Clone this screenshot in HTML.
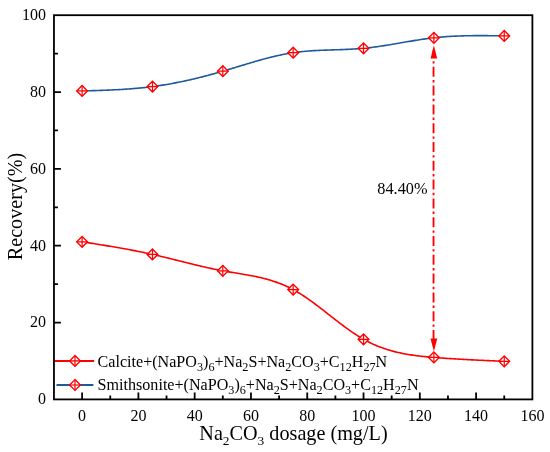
<!DOCTYPE html>
<html><head><meta charset="utf-8"><style>
html,body{margin:0;padding:0;background:#fff;}
svg{display:block;}
text{font-family:"Liberation Serif","Times New Roman",serif;fill:#000;}
.tl{font-size:16px;}
.tt{font-size:20.2px;}
.sub{font-size:13.4px;}
.lg{font-size:16.1px;}
.lsub{font-size:12.2px;}
.ax{stroke:#000;stroke-width:1.8;fill:none;}
.blue{stroke:#1f5a9b;stroke-width:1.6;fill:none;}
.red{stroke:#ff0000;stroke-width:1.6;fill:none;}
.mk{stroke:#ff0000;stroke-width:1.35;fill:#fff;fill-opacity:0.85;}
.mkc{stroke:#ff0000;stroke-width:1.2;fill:none;}
.dash{stroke:#ff0000;stroke-width:1.85;stroke-dasharray:10 3.2 2.4 3.2;stroke-dashoffset:2;}
</style></head><body>
<svg width="550" height="452" viewBox="0 0 550 452">
<path d="M82.10,90.95 L83.51,90.91 L84.92,90.87 L86.34,90.83 L87.75,90.79 L89.16,90.75 L90.57,90.71 L91.98,90.67 L93.39,90.63 L94.81,90.59 L96.22,90.54 L97.63,90.50 L99.04,90.45 L100.45,90.40 L101.87,90.36 L103.28,90.30 L104.69,90.25 L106.10,90.20 L107.51,90.14 L108.93,90.08 L110.34,90.02 L111.75,89.96 L113.16,89.89 L114.57,89.82 L115.98,89.75 L117.40,89.68 L118.81,89.60 L120.22,89.52 L121.63,89.44 L123.04,89.35 L124.46,89.26 L125.87,89.17 L127.28,89.07 L128.69,88.97 L130.10,88.87 L131.51,88.76 L132.93,88.65 L134.34,88.53 L135.75,88.41 L137.16,88.28 L138.57,88.15 L139.99,88.02 L141.40,87.88 L142.81,87.73 L144.22,87.58 L145.63,87.43 L147.05,87.27 L148.46,87.10 L149.87,86.93 L151.28,86.75 L152.69,86.57 L154.10,86.38 L155.52,86.19 L156.93,85.99 L158.34,85.78 L159.75,85.57 L161.16,85.35 L162.58,85.13 L163.99,84.90 L165.40,84.67 L166.81,84.43 L168.22,84.19 L169.64,83.94 L171.05,83.68 L172.46,83.42 L173.87,83.16 L175.28,82.89 L176.69,82.61 L178.11,82.33 L179.52,82.05 L180.93,81.76 L182.34,81.46 L183.75,81.16 L185.17,80.86 L186.58,80.55 L187.99,80.24 L189.40,79.92 L190.81,79.60 L192.22,79.27 L193.64,78.94 L195.05,78.60 L196.46,78.26 L197.87,77.92 L199.28,77.57 L200.70,77.22 L202.11,76.86 L203.52,76.50 L204.93,76.14 L206.34,75.77 L207.76,75.40 L209.17,75.02 L210.58,74.64 L211.99,74.26 L213.40,73.87 L214.81,73.48 L216.23,73.09 L217.64,72.69 L219.05,72.29 L220.46,71.88 L221.87,71.47 L223.29,71.06 L224.70,70.65 L226.11,70.23 L227.52,69.81 L228.93,69.39 L230.34,68.96 L231.76,68.54 L233.17,68.11 L234.58,67.68 L235.99,67.25 L237.40,66.82 L238.82,66.39 L240.23,65.96 L241.64,65.53 L243.05,65.11 L244.46,64.68 L245.88,64.25 L247.29,63.83 L248.70,63.40 L250.11,62.98 L251.52,62.56 L252.93,62.15 L254.35,61.73 L255.76,61.32 L257.17,60.92 L258.58,60.52 L259.99,60.12 L261.41,59.73 L262.82,59.34 L264.23,58.95 L265.64,58.58 L267.05,58.20 L268.47,57.84 L269.88,57.48 L271.29,57.12 L272.70,56.78 L274.11,56.44 L275.52,56.10 L276.94,55.78 L278.35,55.46 L279.76,55.16 L281.17,54.86 L282.58,54.57 L284.00,54.28 L285.41,54.01 L286.82,53.75 L288.23,53.50 L289.64,53.26 L291.05,53.03 L292.47,52.81 L293.88,52.60 L295.29,52.40 L296.70,52.21 L298.11,52.04 L299.53,51.87 L300.94,51.71 L302.35,51.57 L303.76,51.43 L305.17,51.30 L306.59,51.18 L308.00,51.06 L309.41,50.96 L310.82,50.86 L312.23,50.76 L313.64,50.67 L315.06,50.59 L316.47,50.52 L317.88,50.44 L319.29,50.38 L320.70,50.31 L322.12,50.25 L323.53,50.20 L324.94,50.14 L326.35,50.09 L327.76,50.04 L329.17,50.00 L330.59,49.95 L332.00,49.91 L333.41,49.86 L334.82,49.82 L336.23,49.77 L337.65,49.73 L339.06,49.68 L340.47,49.63 L341.88,49.58 L343.29,49.53 L344.71,49.48 L346.12,49.42 L347.53,49.36 L348.94,49.29 L350.35,49.22 L351.76,49.15 L353.18,49.07 L354.59,48.99 L356.00,48.90 L357.41,48.80 L358.82,48.70 L360.24,48.59 L361.65,48.47 L363.06,48.34 L364.47,48.21 L365.88,48.07 L367.29,47.92 L368.71,47.76 L370.12,47.60 L371.53,47.43 L372.94,47.25 L374.35,47.06 L375.77,46.87 L377.18,46.68 L378.59,46.48 L380.00,46.27 L381.41,46.06 L382.83,45.84 L384.24,45.63 L385.65,45.40 L387.06,45.18 L388.47,44.95 L389.88,44.71 L391.30,44.48 L392.71,44.24 L394.12,44.00 L395.53,43.76 L396.94,43.52 L398.36,43.28 L399.77,43.03 L401.18,42.79 L402.59,42.55 L404.00,42.30 L405.42,42.06 L406.83,41.82 L408.24,41.58 L409.65,41.34 L411.06,41.10 L412.47,40.87 L413.89,40.64 L415.30,40.41 L416.71,40.18 L418.12,39.96 L419.53,39.74 L420.95,39.52 L422.36,39.31 L423.77,39.11 L425.18,38.91 L426.59,38.71 L428.00,38.52 L429.42,38.34 L430.83,38.16 L432.24,37.99 L433.65,37.83 L435.06,37.67 L436.48,37.52 L437.89,37.38 L439.30,37.24 L440.71,37.11 L442.12,36.99 L443.54,36.87 L444.95,36.77 L446.36,36.66 L447.77,36.56 L449.18,36.47 L450.59,36.39 L452.01,36.31 L453.42,36.23 L454.83,36.16 L456.24,36.10 L457.65,36.04 L459.07,35.98 L460.48,35.93 L461.89,35.89 L463.30,35.85 L464.71,35.81 L466.12,35.78 L467.54,35.75 L468.95,35.72 L470.36,35.70 L471.77,35.68 L473.18,35.67 L474.60,35.66 L476.01,35.65 L477.42,35.64 L478.83,35.64 L480.24,35.64 L481.66,35.64 L483.07,35.65 L484.48,35.65 L485.89,35.66 L487.30,35.67 L488.71,35.69 L490.13,35.70 L491.54,35.72 L492.95,35.73 L494.36,35.75 L495.77,35.77 L497.19,35.79 L498.60,35.81 L500.01,35.83 L501.42,35.86 L502.83,35.88 L504.25,35.90" class="blue"/>
<path d="M82.10,241.80 L83.51,242.02 L84.92,242.24 L86.34,242.46 L87.75,242.69 L89.16,242.91 L90.57,243.13 L91.98,243.35 L93.39,243.58 L94.81,243.80 L96.22,244.02 L97.63,244.25 L99.04,244.47 L100.45,244.70 L101.87,244.93 L103.28,245.16 L104.69,245.39 L106.10,245.62 L107.51,245.85 L108.93,246.09 L110.34,246.32 L111.75,246.56 L113.16,246.80 L114.57,247.04 L115.98,247.28 L117.40,247.53 L118.81,247.77 L120.22,248.02 L121.63,248.27 L123.04,248.52 L124.46,248.78 L125.87,249.03 L127.28,249.29 L128.69,249.55 L130.10,249.82 L131.51,250.09 L132.93,250.36 L134.34,250.63 L135.75,250.90 L137.16,251.18 L138.57,251.46 L139.99,251.75 L141.40,252.03 L142.81,252.32 L144.22,252.62 L145.63,252.91 L147.05,253.21 L148.46,253.52 L149.87,253.83 L151.28,254.14 L152.69,254.45 L154.10,254.77 L155.52,255.09 L156.93,255.42 L158.34,255.75 L159.75,256.08 L161.16,256.42 L162.58,256.75 L163.99,257.09 L165.40,257.44 L166.81,257.78 L168.22,258.13 L169.64,258.47 L171.05,258.82 L172.46,259.17 L173.87,259.52 L175.28,259.87 L176.69,260.23 L178.11,260.58 L179.52,260.93 L180.93,261.29 L182.34,261.64 L183.75,261.99 L185.17,262.34 L186.58,262.69 L187.99,263.04 L189.40,263.39 L190.81,263.74 L192.22,264.09 L193.64,264.43 L195.05,264.77 L196.46,265.11 L197.87,265.45 L199.28,265.78 L200.70,266.12 L202.11,266.45 L203.52,266.77 L204.93,267.09 L206.34,267.41 L207.76,267.73 L209.17,268.04 L210.58,268.35 L211.99,268.65 L213.40,268.95 L214.81,269.24 L216.23,269.53 L217.64,269.81 L219.05,270.09 L220.46,270.36 L221.87,270.63 L223.29,270.89 L224.70,271.14 L226.11,271.39 L227.52,271.63 L228.93,271.87 L230.34,272.11 L231.76,272.35 L233.17,272.58 L234.58,272.81 L235.99,273.04 L237.40,273.27 L238.82,273.50 L240.23,273.73 L241.64,273.97 L243.05,274.21 L244.46,274.45 L245.88,274.69 L247.29,274.94 L248.70,275.19 L250.11,275.45 L251.52,275.72 L252.93,275.99 L254.35,276.27 L255.76,276.56 L257.17,276.86 L258.58,277.17 L259.99,277.49 L261.41,277.82 L262.82,278.16 L264.23,278.52 L265.64,278.88 L267.05,279.27 L268.47,279.66 L269.88,280.07 L271.29,280.50 L272.70,280.94 L274.11,281.40 L275.52,281.88 L276.94,282.37 L278.35,282.89 L279.76,283.42 L281.17,283.98 L282.58,284.55 L284.00,285.15 L285.41,285.77 L286.82,286.41 L288.23,287.08 L289.64,287.77 L291.05,288.48 L292.47,289.22 L293.88,289.99 L295.29,290.78 L296.70,291.60 L298.11,292.44 L299.53,293.30 L300.94,294.19 L302.35,295.09 L303.76,296.02 L305.17,296.96 L306.59,297.93 L308.00,298.91 L309.41,299.90 L310.82,300.91 L312.23,301.93 L313.64,302.97 L315.06,304.01 L316.47,305.07 L317.88,306.14 L319.29,307.21 L320.70,308.30 L322.12,309.38 L323.53,310.48 L324.94,311.58 L326.35,312.68 L327.76,313.78 L329.17,314.89 L330.59,315.99 L332.00,317.09 L333.41,318.20 L334.82,319.29 L336.23,320.39 L337.65,321.48 L339.06,322.56 L340.47,323.64 L341.88,324.70 L343.29,325.76 L344.71,326.81 L346.12,327.85 L347.53,328.87 L348.94,329.88 L350.35,330.88 L351.76,331.86 L353.18,332.83 L354.59,333.77 L356.00,334.70 L357.41,335.61 L358.82,336.50 L360.24,337.37 L361.65,338.21 L363.06,339.03 L364.47,339.83 L365.88,340.60 L367.29,341.34 L368.71,342.07 L370.12,342.77 L371.53,343.44 L372.94,344.10 L374.35,344.73 L375.77,345.34 L377.18,345.93 L378.59,346.49 L380.00,347.04 L381.41,347.57 L382.83,348.08 L384.24,348.57 L385.65,349.04 L387.06,349.49 L388.47,349.93 L389.88,350.35 L391.30,350.75 L392.71,351.14 L394.12,351.51 L395.53,351.86 L396.94,352.20 L398.36,352.53 L399.77,352.84 L401.18,353.14 L402.59,353.43 L404.00,353.70 L405.42,353.96 L406.83,354.21 L408.24,354.45 L409.65,354.68 L411.06,354.90 L412.47,355.10 L413.89,355.30 L415.30,355.49 L416.71,355.68 L418.12,355.85 L419.53,356.02 L420.95,356.18 L422.36,356.33 L423.77,356.48 L425.18,356.62 L426.59,356.76 L428.00,356.89 L429.42,357.02 L430.83,357.14 L432.24,357.26 L433.65,357.38 L435.06,357.50 L436.48,357.61 L437.89,357.72 L439.30,357.83 L440.71,357.94 L442.12,358.04 L443.54,358.14 L444.95,358.24 L446.36,358.34 L447.77,358.44 L449.18,358.54 L450.59,358.63 L452.01,358.72 L453.42,358.81 L454.83,358.90 L456.24,358.99 L457.65,359.07 L459.07,359.15 L460.48,359.24 L461.89,359.32 L463.30,359.40 L464.71,359.47 L466.12,359.55 L467.54,359.63 L468.95,359.70 L470.36,359.77 L471.77,359.84 L473.18,359.92 L474.60,359.99 L476.01,360.05 L477.42,360.12 L478.83,360.19 L480.24,360.26 L481.66,360.32 L483.07,360.39 L484.48,360.45 L485.89,360.51 L487.30,360.58 L488.71,360.64 L490.13,360.70 L491.54,360.76 L492.95,360.82 L494.36,360.88 L495.77,360.94 L497.19,361.00 L498.60,361.06 L500.01,361.12 L501.42,361.18 L502.83,361.24 L504.25,361.30" class="red"/>
<line x1="433.54" y1="50" x2="433.54" y2="340" class="dash"/>
<path d="M433.89,45.3 L437.19,58.6 L430.59,58.6 Z" fill="#ff0000"/>
<path d="M433.89,351.4 L437.29,338.6 L430.49,338.6 Z" fill="#ff0000"/>
<path d="M82.10,85.55 L87.50,90.95 L82.10,96.35 L76.70,90.95 Z" class="mk"/><path d="M82.10,85.55 V96.35 M76.70,90.95 H87.50" class="mkc"/>
<path d="M152.46,81.20 L157.86,86.60 L152.46,92.00 L147.06,86.60 Z" class="mk"/><path d="M152.46,81.20 V92.00 M147.06,86.60 H157.86" class="mkc"/>
<path d="M222.81,65.80 L228.22,71.20 L222.81,76.60 L217.41,71.20 Z" class="mk"/><path d="M222.81,65.80 V76.60 M217.41,71.20 H228.22" class="mkc"/>
<path d="M293.17,47.30 L298.57,52.70 L293.17,58.10 L287.77,52.70 Z" class="mk"/><path d="M293.17,47.30 V58.10 M287.77,52.70 H298.57" class="mkc"/>
<path d="M363.53,42.90 L368.93,48.30 L363.53,53.70 L358.13,48.30 Z" class="mk"/><path d="M363.53,42.90 V53.70 M358.13,48.30 H368.93" class="mkc"/>
<path d="M433.89,32.40 L439.29,37.80 L433.89,43.20 L428.49,37.80 Z" class="mk"/><path d="M433.89,32.40 V43.20 M428.49,37.80 H439.29" class="mkc"/>
<path d="M504.25,30.50 L509.64,35.90 L504.25,41.30 L498.85,35.90 Z" class="mk"/><path d="M504.25,30.50 V41.30 M498.85,35.90 H509.64" class="mkc"/>
<path d="M82.10,236.40 L87.50,241.80 L82.10,247.20 L76.70,241.80 Z" class="mk"/><path d="M82.10,236.40 V247.20 M76.70,241.80 H87.50" class="mkc"/>
<path d="M152.46,249.00 L157.86,254.40 L152.46,259.80 L147.06,254.40 Z" class="mk"/><path d="M152.46,249.00 V259.80 M147.06,254.40 H157.86" class="mkc"/>
<path d="M222.81,265.40 L228.22,270.80 L222.81,276.20 L217.41,270.80 Z" class="mk"/><path d="M222.81,265.40 V276.20 M217.41,270.80 H228.22" class="mkc"/>
<path d="M293.17,284.20 L298.57,289.60 L293.17,295.00 L287.77,289.60 Z" class="mk"/><path d="M293.17,284.20 V295.00 M287.77,289.60 H298.57" class="mkc"/>
<path d="M363.53,333.90 L368.93,339.30 L363.53,344.70 L358.13,339.30 Z" class="mk"/><path d="M363.53,333.90 V344.70 M358.13,339.30 H368.93" class="mkc"/>
<path d="M433.89,352.00 L439.29,357.40 L433.89,362.80 L428.49,357.40 Z" class="mk"/><path d="M433.89,352.00 V362.80 M428.49,357.40 H439.29" class="mkc"/>
<path d="M504.25,355.90 L509.64,361.30 L504.25,366.70 L498.85,361.30 Z" class="mk"/><path d="M504.25,355.90 V366.70 M498.85,361.30 H509.64" class="mkc"/>
<path d="M82.10,399.40 V392.40 M110.24,399.40 V395.40 M138.39,399.40 V392.40 M166.53,399.40 V395.40 M194.67,399.40 V392.40 M222.81,399.40 V395.40 M250.96,399.40 V392.40 M279.10,399.40 V395.40 M307.24,399.40 V392.40 M335.39,399.40 V395.40 M363.53,399.40 V392.40 M391.67,399.40 V395.40 M419.82,399.40 V392.40 M447.96,399.40 V395.40 M476.10,399.40 V392.40 M504.25,399.40 V395.40 M53.96,360.98 H57.96 M53.96,322.56 H60.96 M53.96,284.14 H57.96 M53.96,245.72 H60.96 M53.96,207.30 H57.96 M53.96,168.88 H60.96 M53.96,130.46 H57.96 M53.96,92.04 H60.96 M53.96,53.62 H57.96" class="ax"/>
<rect x="53.96" y="15.20" width="478.43" height="384.20" class="ax" fill="none"/>
<text x="82.10" y="421" text-anchor="middle" class="tl">0</text>
<text x="138.39" y="421" text-anchor="middle" class="tl">20</text>
<text x="194.67" y="421" text-anchor="middle" class="tl">40</text>
<text x="250.96" y="421" text-anchor="middle" class="tl">60</text>
<text x="307.24" y="421" text-anchor="middle" class="tl">80</text>
<text x="363.53" y="421" text-anchor="middle" class="tl">100</text>
<text x="419.82" y="421" text-anchor="middle" class="tl">120</text>
<text x="476.10" y="421" text-anchor="middle" class="tl">140</text>
<text x="532.39" y="421" text-anchor="middle" class="tl">160</text>
<text x="46" y="404.20" text-anchor="end" class="tl">0</text>
<text x="46" y="327.36" text-anchor="end" class="tl">20</text>
<text x="46" y="250.52" text-anchor="end" class="tl">40</text>
<text x="46" y="173.68" text-anchor="end" class="tl">60</text>
<text x="46" y="96.84" text-anchor="end" class="tl">80</text>
<text x="46" y="20.00" text-anchor="end" class="tl">100</text>
<text x="199.3" y="440" class="tt">Na<tspan class="sub" dy="4.6">2</tspan><tspan dy="-4.6">CO</tspan><tspan class="sub" dy="4.6">3</tspan><tspan dy="-4.6"> dosage (mg/L)</tspan></text>
<text transform="translate(22,260.3) rotate(-90)" class="tt">Recovery(%)</text>
<text x="377.3" y="193.5" class="tl" style="font-size:16.3px">84.40%</text>
<line x1="55" y1="360.9" x2="94.2" y2="360.9" class="red" style="stroke-width:2"/><path d="M75.00,355.50 L80.40,360.90 L75.00,366.30 L69.60,360.90 Z" class="mk"/><path d="M75.00,355.50 V366.30 M69.60,360.90 H80.40" class="mkc"/><text x="97.6" y="366.5" class="lg">Calcite+(NaPO<tspan class="lsub" dy="4.0">3</tspan><tspan dy="-4.0">)</tspan><tspan class="lsub" dy="4.0">6</tspan><tspan dy="-4.0">+Na</tspan><tspan class="lsub" dy="4.0">2</tspan><tspan dy="-4.0">S+Na</tspan><tspan class="lsub" dy="4.0">2</tspan><tspan dy="-4.0">CO</tspan><tspan class="lsub" dy="4.0">3</tspan><tspan dy="-4.0">+C</tspan><tspan class="lsub" dy="4.0">12</tspan><tspan dy="-4.0">H</tspan><tspan class="lsub" dy="4.0">27</tspan><tspan dy="-4.0">N</tspan></text>
<line x1="56.5" y1="385.0" x2="93.4" y2="385.0" class="blue" style="stroke-width:2"/><path d="M75.00,379.60 L80.40,385.00 L75.00,390.40 L69.60,385.00 Z" class="mk"/><path d="M75.00,379.60 V390.40 M69.60,385.00 H80.40" class="mkc"/><text x="97.6" y="390.2" class="lg">Smithsonite+(NaPO<tspan class="lsub" dy="4.0">3</tspan><tspan dy="-4.0">)</tspan><tspan class="lsub" dy="4.0">6</tspan><tspan dy="-4.0">+Na</tspan><tspan class="lsub" dy="4.0">2</tspan><tspan dy="-4.0">S+Na</tspan><tspan class="lsub" dy="4.0">2</tspan><tspan dy="-4.0">CO</tspan><tspan class="lsub" dy="4.0">3</tspan><tspan dy="-4.0">+C</tspan><tspan class="lsub" dy="4.0">12</tspan><tspan dy="-4.0">H</tspan><tspan class="lsub" dy="4.0">27</tspan><tspan dy="-4.0">N</tspan></text>
</svg>
</body></html>
